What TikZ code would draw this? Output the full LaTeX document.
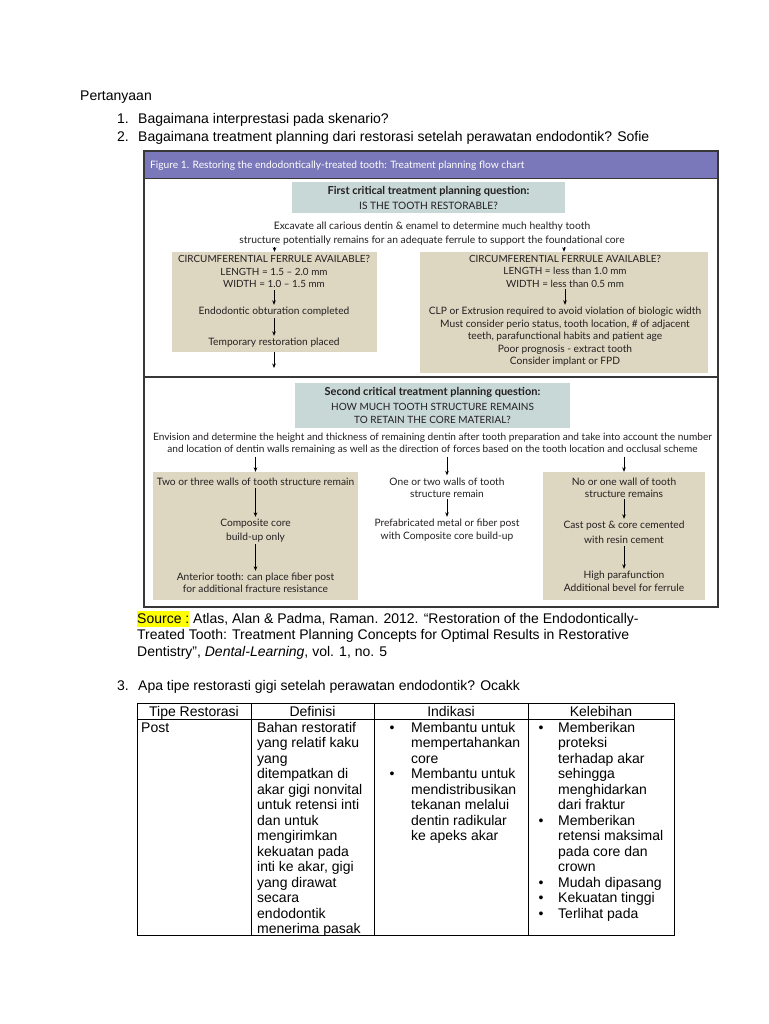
\documentclass[tikz,border=0pt]{standalone}
\usepackage{fontspec}
\setmainfont{Liberation Sans}
\newfontfamily\figfont{Lato}
\usetikzlibrary{arrows.meta}
\definecolor{hdrpurple}{RGB}{122,120,186}
\definecolor{qblue}{RGB}{200,216,214}
\definecolor{tanbg}{RGB}{221,215,193}
\definecolor{framec}{RGB}{55,55,55}
\definecolor{figtext}{RGB}{35,31,32}
\definecolor{hlyellow}{RGB}{255,255,0}
\newcommand\Lines[1]{\vtop{\halign{##\hfil\cr#1\crcr}}}
\newcommand\CLines[1]{\vtop{\halign{\hfil##\hfil\cr#1\crcr}}}
\newcommand\ff[2]{\figfont\fontsize{#1}{#2}\selectfont}
\tikzset{
 body/.style={font=\fontsize{14}{15.5}\selectfont, inner sep=0pt, anchor=base west},
 ftxt/.style={font=\ff{10.2}{12.5}, text=figtext, inner xsep=0pt, inner ysep=2pt, anchor=base},
 hdr/.style={font=\ff{10.2}{12}, text=white, inner sep=0pt, anchor=base west},
 qbox/.style={fill=qblue, inner sep=0pt},
 tanbox/.style={fill=tanbg, inner sep=0pt},
 arr/.style={-{Stealth[length=4.5pt,width=3.6pt]}, line width=0.7pt, black},
 gridline/.style={line width=0.8pt, black}
}
\begin{document}
\begin{tikzpicture}[x=1pt,y=-1pt]
\useasboundingbox (0,0) rectangle (768,1024);
\fill[white] (0,0) rectangle (768,1024);

% ---------- body text ----------
\node[body] (pert) at (80,101) {Pertanyaan};
\node[body] (n1) at (117,124) {1.};
\node[body] (qa) at (138,124) {Bagaimana interprestasi pada skenario?};
\node[body] (n2) at (117,142) {2.};
\node[body] (qb) at (138,142) {Bagaimana treatment planning dari restorasi setelah perawatan endodontik? Sofie};

% ---------- figure frame ----------
\fill[hdrpurple] (144,151) rectangle (718,179);
\node[hdr] (hdr) at (150,169) {Figure 1. Restoring the endodontically-treated tooth: Treatment planning flow chart};
\draw[framec, line width=1.3pt] (144,151) rectangle (718,607);
\draw[framec, line width=1pt] (144,179) -- (718,179);
\draw[framec, line width=2pt] (144,377) -- (718,377);

% ---------- first half ----------
\node[qbox, ftxt, font=\ff{10.2}{15}, anchor=center, minimum width=273, minimum height=31] (q1) at (428.5,197.5)
 {\CLines{\fontsize{11}{15}\selectfont\bfseries First critical treatment planning question:\cr IS THE TOOTH RESTORABLE?}};
\node[ftxt, font=\ff{10.3}{14}] (exc) at (432,229.5)
 {\CLines{Excavate all carious dentin \& enamel to determine much healthy tooth\cr structure potentially remains for an adequate ferrule to support the foundational core}};

\node[tanbox, minimum width=205, minimum height=100] (lbox) at (274.5,302) {};
\node[tanbox, minimum width=288, minimum height=121] (rbox) at (564,312.5) {};

\node[ftxt, font=\ff{9.9}{12.5}] (l1) at (274,262.5) {\CLines{CIRCUMFERENTIAL FERRULE AVAILABLE?\cr LENGTH = 1.5 – 2.0 mm\cr WIDTH = 1.0 – 1.5 mm}};
\node[ftxt] (l2) at (274,314.5) {Endodontic obturation completed};
\node[ftxt] (l3) at (274,345.5) {Temporary restoration placed};
\coordinate (lout) at (274,368);

\node[ftxt, font=\ff{9.9}{12.5}] (r1) at (565,262) {\CLines{CIRCUMFERENTIAL FERRULE AVAILABLE?\cr LENGTH = less than 1.0 mm\cr WIDTH = less than 0.5 mm}};
\node[ftxt] (r2) at (565,314.5) {\CLines{CLP or Extrusion required to avoid violation of biologic width\cr Must consider perio status, tooth location, \# of adjacent\cr teeth, parafunctional habits and patient age\cr Poor prognosis - extract tooth\cr Consider implant or FPD}};

\draw[arr] (lbox.north |- exc.south) -- (lbox.north);
\draw[arr] (rbox.north |- exc.south) -- (rbox.north);
\draw[arr] (l1.south) -- (l2.north);
\draw[arr] (l2.south) -- (l3.north);
\draw[arr] (lbox.south -| lout) -- (lout);
\draw[arr] (r1.south) -- (r2.north);

% ---------- second half ----------
\node[qbox, ftxt, font=\ff{10}{12.5}, anchor=center, minimum width=275, minimum height=45] (q2) at (432.5,405.5)
 {\CLines{\fontsize{11}{12.5}\selectfont\bfseries Second critical treatment planning question:\cr\noalign{\vskip2.5pt} HOW MUCH TOOTH STRUCTURE REMAINS\cr TO RETAIN THE CORE MATERIAL?}};
\node[ftxt, font=\ff{10.1}{12}] (env) at (432.5,440.5)
 {\CLines{Envision and determine the height and thickness of remaining dentin after tooth preparation and take into account the number\cr and location of dentin walls remaining as well as the direction of forces based on the tooth location and occlusal scheme}};

\node[tanbox, minimum width=205, minimum height=128] (b1) at (255.5,536) {};
\node[tanbox, minimum width=162, minimum height=128] (b3) at (624,536) {};

\node[ftxt] (b1a) at (255.5,485.5) {Two or three walls of tooth structure remain};
\node[ftxt, font=\ff{10.2}{14}] (b1b) at (255.5,526.5) {\CLines{Composite core\cr build-up only}};
\node[ftxt, font=\ff{10.2}{11.5}] (b1c) at (255.5,580.5) {\CLines{Anterior tooth: can place fiber post\cr for additional fracture resistance}};

\node[ftxt, font=\ff{10.2}{12}] (m1) at (447,485) {\CLines{One or two walls of tooth\cr structure remain}};
\node[ftxt, font=\ff{10.2}{13}] (m2) at (447,526.5) {\CLines{Prefabricated metal or fiber post\cr with Composite core build-up}};

\node[ftxt, font=\ff{10.2}{11.5}] (b3a) at (624,485.5) {\CLines{No or one wall of tooth\cr structure remains}};
\node[ftxt, font=\ff{10.2}{15}] (b3b) at (624,528.5) {\CLines{Cast post \& core cemented\cr with resin cement}};
\node[ftxt, font=\ff{10.2}{13}] (b3c) at (624,578.5) {\CLines{High parafunction\cr Additional bevel for ferrule}};

\draw[arr] (b1.north |- env.south) -- (b1.north);
\draw[arr] (m1.north |- env.south) -- (m1.north);
\draw[arr] (b3.north |- env.south) -- (b3.north);
\draw[arr] (b1a.south) -- (b1b.north);
\draw[arr] (b1b.south) -- (b1c.north);
\draw[arr] (m1.south) -- (m2.north);
\draw[arr] (b3a.south) -- (b3b.north);
\draw[arr] (b3b.south) -- (b3c.north);

% ---------- source ----------
\node[body, font=\fontsize{14}{16.5}\selectfont] (src) at (137,623)
 {\Lines{{\fboxsep=0pt\colorbox{hlyellow}{\rule[-4pt]{0pt}{16pt}Source :}} Atlas, Alan \& Padma, Raman. 2012. “Restoration of the Endodontically-\cr
 Treated Tooth: Treatment Planning Concepts for Optimal Results in Restorative\cr
 Dentistry”, \textit{Dental-Learning}, vol. 1, no. 5}};

\node[body] (n3) at (117,690) {3.};
\node[body] (qc) at (138,690) {Apa tipe restorasti gigi setelah perawatan endodontik? Ocakk};

% ---------- table ----------
\draw[gridline] (137,703) rectangle (674,935);
\draw[gridline] (137,719) -- (674,719);
\draw[gridline] (251,703) -- (251,935);
\draw[gridline] (374,703) -- (374,935);
\draw[gridline] (528,703) -- (528,935);

\node[body, anchor=base] (th1) at (194,716) {Tipe Restorasi};
\node[body, anchor=base] (th2) at (312.5,716) {Definisi};
\node[body, anchor=base] (th3) at (451,716) {Indikasi};
\node[body, anchor=base] (th4) at (601,716) {Kelebihan};

\node[body] (c1) at (141,732) {Post};
\node[body] (c2) at (257,732) {\Lines{Bahan restoratif\cr yang relatif kaku\cr yang\cr ditempatkan di\cr akar gigi nonvital\cr untuk retensi inti\cr dan untuk\cr mengirimkan\cr kekuatan pada\cr inti ke akar, gigi\cr yang dirawat\cr secara\cr endodontik\cr menerima pasak}};

\node[body, anchor=base] (ib1) at (392,732) {•};
\node[body] (i1) at (411,732) {\Lines{Membantu untuk\cr mempertahankan\cr core}};
\node[body, anchor=base] (ib2) at (392,778.5) {•};
\node[body] (i2) at (411,778.5) {\Lines{Membantu untuk\cr mendistribusikan\cr tekanan melalui\cr dentin radikular\cr ke apeks akar}};

\node[body, anchor=base] (kb1) at (541,732) {•};
\node[body] (k1) at (558,732) {\Lines{Memberikan\cr proteksi\cr terhadap akar\cr sehingga\cr menghidarkan\cr dari fraktur}};
\node[body, anchor=base] (kb2) at (541,825) {•};
\node[body] (k2) at (558,825) {\Lines{Memberikan\cr retensi maksimal\cr pada core dan\cr crown}};
\node[body, anchor=base] (kb3) at (541,887) {•};
\node[body] (k3) at (558,887) {Mudah dipasang};
\node[body, anchor=base] (kb4) at (541,902.5) {•};
\node[body] (k4) at (558,902.5) {Kekuatan tinggi};
\node[body, anchor=base] (kb5) at (541,918) {•};
\node[body] (k5) at (558,918) {Terlihat pada};
\end{tikzpicture}
\end{document}
